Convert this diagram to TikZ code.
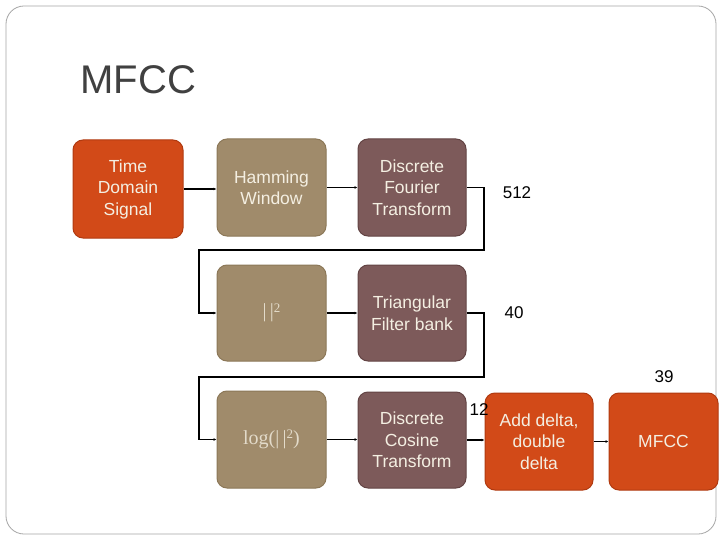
\documentclass[tikz,border=0pt]{standalone}
\usepackage{fontspec}
\setmainfont{Liberation Sans}
\newfontfamily\seriffont{Liberation Serif}
\usetikzlibrary{arrows.meta}
\definecolor{orng}{HTML}{D24A18}
\definecolor{orngd}{HTML}{B03A10}
\definecolor{tan}{HTML}{A08B6B}
\definecolor{tand}{HTML}{8C7858}
\definecolor{mauve}{HTML}{7D5A5A}
\definecolor{mauved}{HTML}{634444}
\definecolor{txt}{HTML}{F4EFE2}
\begin{document}
\begin{tikzpicture}[x=1pt,y=-1pt,
  blk/.style={rounded corners=10pt,line width=1pt,text=txt,align=center,font=\fontsize{17.5}{21.5}\selectfont},
  o/.style={blk,fill=orng,draw=orngd},
  t/.style={blk,fill=tan,draw=tand},
  m/.style={blk,fill=mauve,draw=mauved},
  sf/.style={font=\seriffont\fontsize{20}{22}\selectfont,text=txt!80!tan},
  conn/.style={line width=1.2pt,-{Latex[length=3pt,width=3pt]}},
  lbl/.style={font=\fontsize{17}{19}\selectfont}]
\useasboundingbox (0,0) rectangle (720,540);
\fill[white] (0,0) rectangle (720,540);
\draw[gray!70,line width=0.8pt,rounded corners=18pt] (6,6) rectangle (716,534);
\node[anchor=west,text=black!75,font=\fontsize{40}{44}\selectfont] (title) at (77,80) {MFCC};
\node[o,minimum width=110pt,minimum height=98pt] (tds) at (128,189) {Time\\Domain\\Signal};
\node[t,minimum width=109pt,minimum height=97pt] (ham) at (271.5,187.5) {Hamming\\Window};
\node[m,minimum width=108pt,minimum height=97pt] (dft) at (412,187.5) {Discrete\\Fourier\\Transform};
\node[t,sf,minimum width=109pt,minimum height=96pt] (abs) at (271.5,313) {|\,|\raisebox{0.6ex}{\fontsize{13}{13}\selectfont 2}};
\node[m,minimum width=108pt,minimum height=96pt] (tri) at (412,313) {Triangular\\Filter bank};
\node[t,sf,minimum width=109pt,minimum height=97pt] (log) at (271.5,439.5) {log(|\,|\raisebox{0.6ex}{\fontsize{13}{13}\selectfont 2})};
\node[m,minimum width=108pt,minimum height=96pt] (dct) at (412,440) {Discrete\\Cosine\\Transform};
\node[o,minimum width=108pt,minimum height=97pt] (add) at (539,441.5) {Add delta,\\double\\delta};
\node[o,minimum width=109pt,minimum height=97pt] (mfcc) at (663.5,441.5) {MFCC};
\coordinate (c1) at (484,250);
\coordinate (c2) at (199,250);
\coordinate (c3) at (484,377);
\coordinate (c4) at (199,377);
\draw[conn] (tds.east) -- (tds.east -| ham.west);
\draw[conn] (ham.east) -- (ham.east -| dft.west);
\draw[conn] (dft.east) -| (c1) -- (c2) |- (abs.west);
\draw[conn] (abs.east) -- (abs.east -| tri.west);
\draw[conn] (tri.east) -| (c3) -- (c4) |- (log.west);
\draw[conn] (log.east) -- (log.east -| dct.west);
\draw[conn] (dct.east) -- (dct.east -| add.west);
\draw[conn] (add.east) -- (add.east -| mfcc.west);
\node[lbl] (l512) at (517,193) {512};
\node[lbl] (l40) at (514,313) {40};
\node[lbl] (l39) at (664,377) {39};
\node[lbl] (l12) at (479,410) {12};
\end{tikzpicture}
\end{document}
